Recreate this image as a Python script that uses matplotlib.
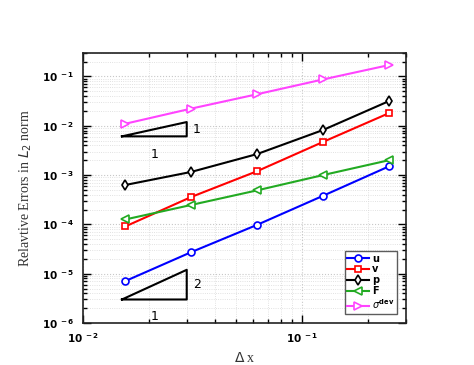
import matplotlib
matplotlib.use("Agg")
import matplotlib.pyplot as plt
import matplotlib.ticker as mticker
import numpy as np

dx = [1/64, 1/32, 1/16, 1/8, 1/4]
err_u = [7.1e-6, 2.74e-5, 9.8e-5, 3.8e-4, 1.5e-3]
err_v = [9.1e-5, 3.6e-4, 1.2e-3, 4.7e-3, 1.8e-2]
err_p = [6.3e-4, 1.16e-3, 2.67e-3, 8.2e-3, 3.16e-2]
err_F = [1.26e-4, 2.48e-4, 4.9e-4, 1.0e-3, 2.0e-3]
err_s = [1.1e-2, 2.23e-2, 4.36e-2, 8.7e-2, 1.7e-1]

tri1_x = [0.01507, 0.0298, 0.0298, 0.01507]
tri1_y = [6.1e-3, 6.1e-3, 1.19e-2, 6.1e-3]
tri2_x = [0.01507, 0.0298, 0.0298, 0.01507]
tri2_y = [3.0e-6, 3.0e-6, 1.2e-5, 3.0e-6]

plt.rcParams['mathtext.fontset'] = 'dejavusans'

fig = plt.figure(figsize=(4.74, 3.65), dpi=100)
ax = fig.add_axes([0.175, 0.115, 0.682, 0.740])

lw = 1.5
ms = 5
ax.plot(dx, err_u, '-o', color='#0000ff', lw=lw, ms=ms, mfc='white', mec='#0000ff', mew=1.2, label='u')
ax.plot(dx, err_v, '-s', color='#ff0000', lw=lw, ms=ms - 0.5, mfc='white', mec='#ff0000', mew=1.2, label='v')
ax.plot(dx, err_p, '-d', color='#000000', lw=lw, ms=ms, mfc='white', mec='#000000', mew=1.2, label='p')
ax.plot(dx, err_F, '-<', color='#22aa22', lw=lw, ms=ms + 1, mfc='white', mec='#22aa22', mew=1.2, label='F')
ax.plot(dx, err_s, '->', color='#ff44ff', lw=lw, ms=ms + 1, mfc='white', mec='#ff44ff', mew=1.2, label=r'$\sigma^{\mathbf{dev}}$')

ax.plot(tri1_x, tri1_y, '-', color='black', lw=1.5)
ax.plot(tri2_x, tri2_y, '-', color='black', lw=1.5)
ax.text(0.0318, 8.5e-3, '1', fontsize=9, ha='left', va='center')
ax.text(0.0212, 3.6e-3, '1', fontsize=9, ha='center', va='top')
ax.text(0.0318, 6.0e-6, '2', fontsize=9, ha='left', va='center')
ax.text(0.0212, 1.8e-6, '1', fontsize=9, ha='center', va='top')

ax.set_xscale('log')
ax.set_yscale('log')
ax.set_xlim(0.01, 0.3)
ax.set_ylim(1e-6, 0.3)

ax.set_xticks([0.01, 0.1])
ax.set_xticklabels([r'$\mathbf{10^{\ -2}}$', r'$\mathbf{10^{\ -1}}$'], fontsize=7.5)
ax.set_yticks([1e-6, 1e-5, 1e-4, 1e-3, 1e-2, 1e-1])
ax.set_yticklabels([r'$\mathbf{10^{\ -%d}}$' % k for k in [6, 5, 4, 3, 2, 1]], fontsize=7.5)
ax.xaxis.set_minor_locator(mticker.LogLocator(base=10, subs=np.arange(2, 10), numticks=20))
ax.yaxis.set_minor_locator(mticker.LogLocator(base=10, subs=np.arange(2, 10), numticks=20))
ax.xaxis.set_minor_formatter(mticker.NullFormatter())
ax.yaxis.set_minor_formatter(mticker.NullFormatter())

ax.tick_params(which='both', direction='in', top=True, right=True, width=1.0)
ax.tick_params(which='major', length=6, pad=6)
ax.tick_params(which='minor', length=3)

ax.grid(True, which='major', color='#c8c8c8', linestyle=':', linewidth=0.8)
ax.grid(True, which='minor', color='#d8d8d8', linestyle=':', linewidth=0.6)
for sp in ax.spines.values():
    sp.set_linewidth(1.2)
    sp.set_color('#222222')

ax.set_xlabel(r'$\Delta$ x', family='Liberation Serif', fontsize=10, labelpad=4, color='#333333')
ax.set_ylabel(r'Relavtive Errors in $L_2$ norm', family='Liberation Serif', fontsize=10, labelpad=6, color='#333333')

leg = ax.legend(loc='lower right', bbox_to_anchor=(0.972, 0.033), frameon=True,
                fancybox=False, edgecolor='#333333', borderpad=0.3, labelspacing=0.1,
                handlelength=2.2, handletextpad=0.3, borderaxespad=0.0,
                prop={'weight': 'bold', 'size': 7})
leg.get_frame().set_linewidth(1.0)

fig.savefig('out.png', dpi=100)
